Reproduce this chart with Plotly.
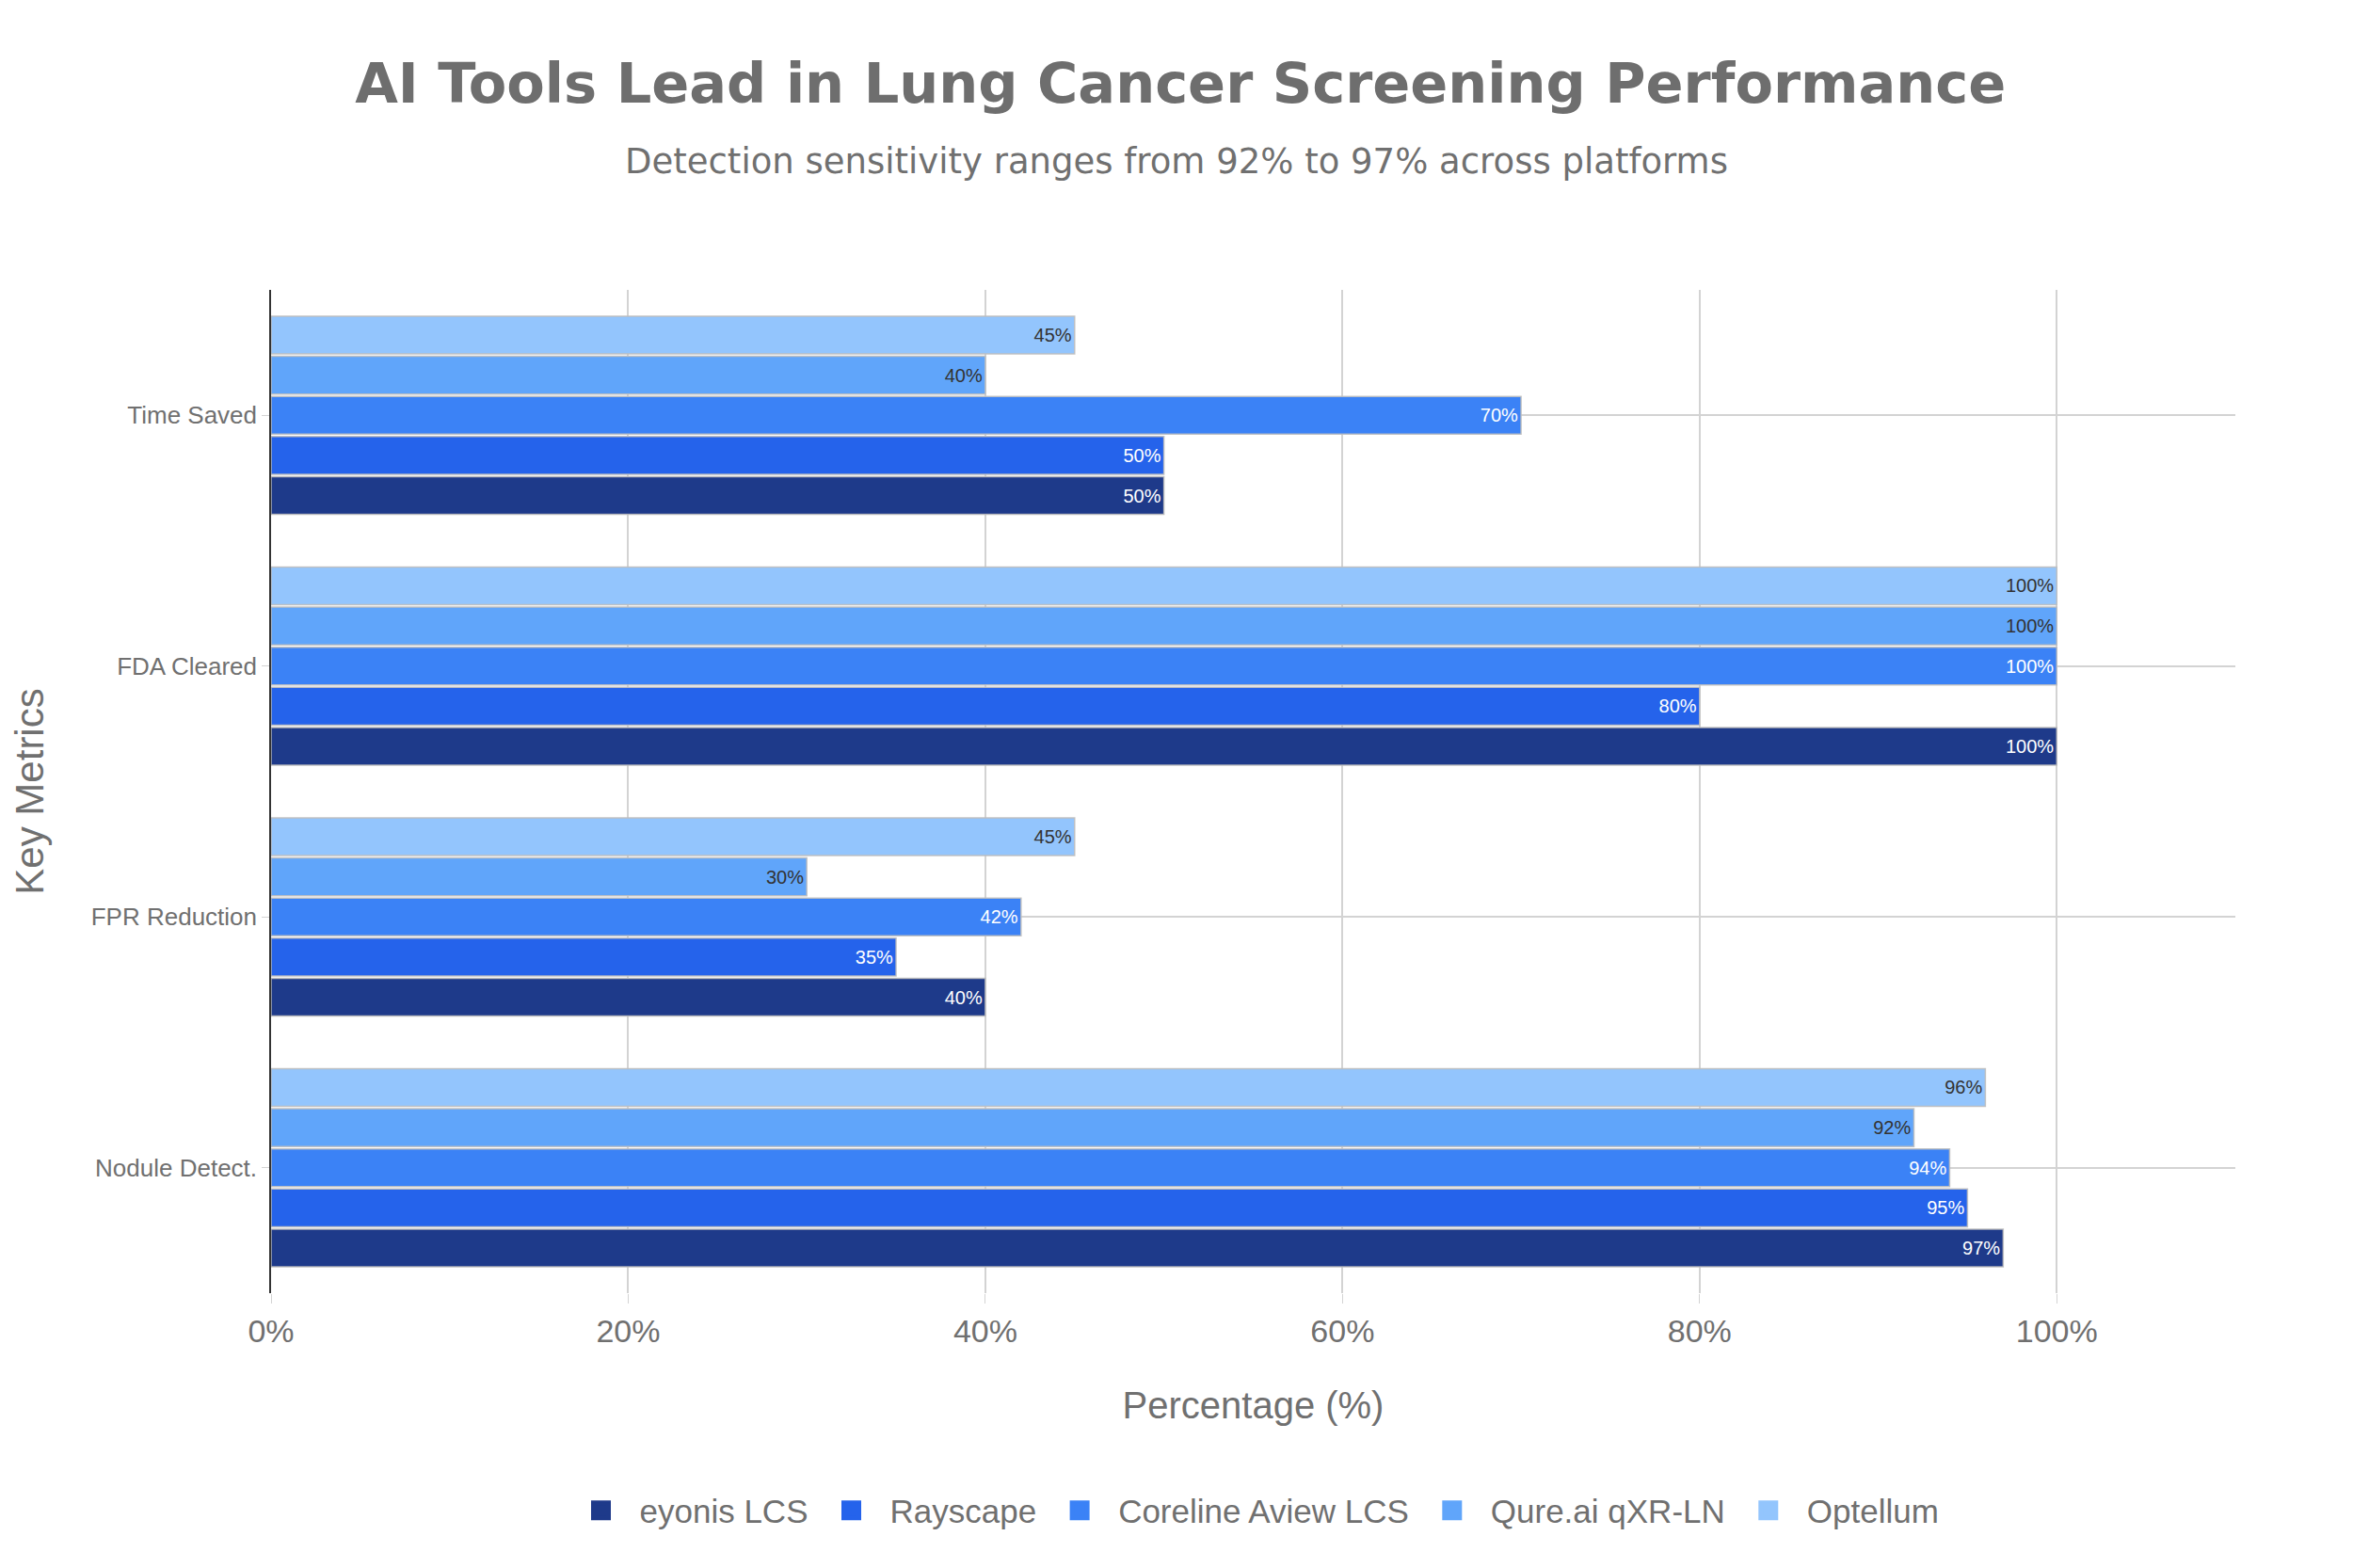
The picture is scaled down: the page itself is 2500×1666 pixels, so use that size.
import plotly.graph_objects as go

categories = ["Nodule Detect.", "FPR Reduction", "FDA Cleared", "Time Saved"]
series_names = ["eyonis LCS", "Rayscape", "Coreline Aview LCS", "Qure.ai qXR-LN", "Optellum"]
eyonis = [97, 40, 100, 50]
rayscape = [95, 35, 80, 50]
coreline = [94, 42, 100, 70]
qure = [92, 30, 100, 40]
optellum = [96, 45, 100, 45]
series_values = [eyonis, rayscape, coreline, qure, optellum]
colors = ["#1E3A8A", "#2563EB", "#3B82F6", "#60A5FA", "#93C5FD"]
text_colors = ["white", "white", "white", "#333333", "#333333"]
x_ticks = [0, 20, 40, 60, 80, 100]
x_tick_labels = ["0%", "20%", "40%", "60%", "80%", "100%"]

FONT = "Liberation Sans"
W, H = 2500, 1666
ML, MR, MT, MB = 280, 133, 300, 300
PH = H - MT - MB
PW = W - ML - MR


def py(px_from_top):
    return (H - MB - px_from_top) / PH


fig = go.Figure()
for name, vals, c, tc in zip(series_names, series_values, colors, text_colors):
    fig.add_trace(go.Bar(
        y=categories, x=vals, name=name, orientation="h", legendgroup=name, showlegend=False,
        marker=dict(color=c, line=dict(color="rgba(190,190,190,0.9)", width=1.5)),
        text=[f"{v}%" for v in vals], textposition="inside", insidetextanchor="end",
        textfont=dict(color=tc, size=20, family=FONT),
        cliponaxis=False,
    ))
# legend proxies (square swatches)
for name, c in zip(series_names, colors):
    fig.add_trace(go.Scatter(
        x=[None], y=[None], mode="markers", name=name, legendgroup=name,
        marker=dict(symbol="square", size=16, color=c, line=dict(color=c, width=5)),
    ))

fig.update_layout(
    width=W, height=H,
    barmode="group", bargap=0.2, bargroupgap=0.06,
    paper_bgcolor="white", plot_bgcolor="white",
    margin=dict(l=ML, r=MR, t=MT, b=MB),
    font=dict(family=FONT, color="#707070"),
    title=dict(text="<b>AI Tools Lead in Lung Cancer Screening Performance</b>",
               x=0.4985, xanchor="center", y=1 - 80 / H, yanchor="middle", yref="container",
               font=dict(family="DejaVu Sans", size=59, color="#6e6e6e")),
    annotations=[dict(text="Detection sensitivity ranges from 92% to 97% across platforms",
                      xref="paper", yref="paper", x=(1242 - ML) / PW, y=py(164),
                      xanchor="center", yanchor="middle", showarrow=False,
                      font=dict(family="DejaVu Sans", size=37, color="#707070"))],
    legend=dict(orientation="h", x=0.5, xanchor="center", y=py(1597), yanchor="middle",
                font=dict(size=35, color="#707070", family=FONT), traceorder="normal",
                itemwidth=72),
    uniformtext=dict(minsize=10, mode="show"),
)
fig.update_xaxes(range=[0, 110], tickvals=x_ticks, ticktext=x_tick_labels, automargin=False,
                 showgrid=True, gridcolor="#d3d3d3", gridwidth=1.5,
                 zeroline=False, ticks="outside", ticklen=10, tickcolor="#d3d3d3",
                 tickfont=dict(size=34, color="#707070"),
                 title=dict(text="Percentage (%)", font=dict(size=40, color="#707070"), standoff=47))
fig.update_yaxes(showgrid=True, gridcolor="#d3d3d3", gridwidth=1.5, automargin=False,
                 showline=True, linecolor="#333333", linewidth=1.5,
                 ticks="outside", ticklen=8, tickcolor="#d3d3d3",
                 tickfont=dict(size=26, color="#707070"),
                 title=dict(text="Key Metrics", font=dict(size=42, color="#707070"), standoff=50))

fig.write_html("out.html")
